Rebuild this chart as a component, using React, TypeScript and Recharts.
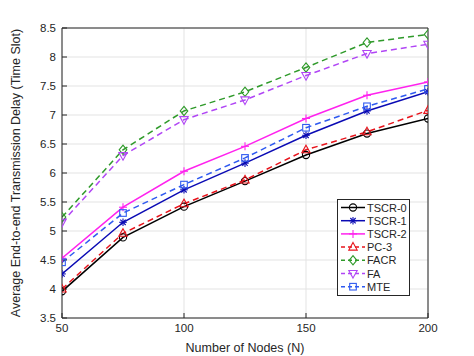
import React from "react";
import { LineChart, Line, XAxis, YAxis, CartesianGrid, Legend, ReferenceLine } from "recharts";

const nodes = [50, 75, 100, 125, 150, 175, 200];
const tscr0 = [3.96, 4.89, 5.42, 5.86, 6.31, 6.68, 6.94];
const tscr1 = [4.26, 5.15, 5.71, 6.17, 6.65, 7.07, 7.40];
const tscr2 = [4.53, 5.41, 6.03, 6.46, 6.94, 7.34, 7.57];
const pc3 = [4.0, 4.96, 5.47, 5.88, 6.40, 6.71, 7.08];
const facr = [5.24, 6.40, 7.07, 7.40, 7.82, 8.25, 8.39];
const fa = [5.15, 6.30, 6.92, 7.26, 7.68, 8.06, 8.22];
const mte = [4.46, 5.31, 5.80, 6.26, 6.78, 7.15, 7.45];

const xTicks = [50, 100, 150, 200];
const yTicks = [3.5, 4, 4.5, 5, 5.5, 6, 6.5, 7, 7.5, 8, 8.5];

const series = [
  { key: "TSCR-0", values: tscr0, color: "#000000", dash: undefined, shape: "circle" },
  { key: "TSCR-1", values: tscr1, color: "#0a0ab4", dash: undefined, shape: "asterisk" },
  { key: "TSCR-2", values: tscr2, color: "#ff22ee", dash: undefined, shape: "plus" },
  { key: "PC-3", values: pc3, color: "#e8141c", dash: "6 4", shape: "triup" },
  { key: "FACR", values: facr, color: "#2f9a2a", dash: "6 4", shape: "diamond" },
  { key: "FA", values: fa, color: "#b146f5", dash: "6 4", shape: "tridown" },
  { key: "MTE", values: mte, color: "#2f5af0", dash: "6 4", shape: "square" },
];

const data = nodes.map((n, i) => {
  const row: Record<string, number> = { n };
  series.forEach((s) => {
    row[s.key] = s.values[i];
  });
  return row;
});

const FONT = "'Liberation Sans', Arial, Helvetica, sans-serif";
const TXT = "#262626";

function Marker({ shape, color, cx, cy }: { shape: string; color: string; cx: number; cy: number }) {
  const sw = 1.1;
  const common = { fill: "none", stroke: color, strokeWidth: sw };
  switch (shape) {
    case "circle":
      return <circle cx={cx} cy={cy} r={3.6} {...common} />;
    case "asterisk": {
      const r = 3.8;
      const d = r * 0.707;
      return (
        <g stroke={color} strokeWidth={sw}>
          <line x1={cx - r} y1={cy} x2={cx + r} y2={cy} />
          <line x1={cx} y1={cy - r} x2={cx} y2={cy + r} />
          <line x1={cx - d} y1={cy - d} x2={cx + d} y2={cy + d} />
          <line x1={cx - d} y1={cy + d} x2={cx + d} y2={cy - d} />
        </g>
      );
    }
    case "plus": {
      const r = 4;
      return (
        <g stroke={color} strokeWidth={sw}>
          <line x1={cx - r} y1={cy} x2={cx + r} y2={cy} />
          <line x1={cx} y1={cy - r} x2={cx} y2={cy + r} />
        </g>
      );
    }
    case "triup":
      return <polygon points={`${cx},${cy - 4.6} ${cx + 4.2},${cy + 3} ${cx - 4.2},${cy + 3}`} {...common} />;
    case "tridown":
      return <polygon points={`${cx},${cy + 4.6} ${cx + 4.2},${cy - 3} ${cx - 4.2},${cy - 3}`} {...common} />;
    case "diamond":
      return <polygon points={`${cx},${cy - 4.6} ${cx + 3.8},${cy} ${cx},${cy + 4.6} ${cx - 3.8},${cy}`} {...common} />;
    case "square":
      return <rect x={cx - 3.3} y={cy - 3.3} width={6.6} height={6.6} {...common} />;
    default:
      return null;
  }
}

function makeDot(shape: string, color: string) {
  return (props: any) => {
    const { cx, cy, index } = props;
    if (cx == null || cy == null) return <g key={index} />;
    return (
      <g key={`${shape}-${index}`}>
        <Marker shape={shape} color={color} cx={cx} cy={cy} />
      </g>
    );
  };
}

function LegendBox() {
  const w = 73;
  const h = 97;
  const rowH = 13.2;
  return (
    <svg width={w} height={h} style={{ display: "block" }}>
      <rect x={0.5} y={0.5} width={w - 1} height={h - 1} fill="#ffffff" stroke="#262626" strokeWidth={1} />
      {series.map((s, i) => {
        const cy = 8.5 + i * rowH;
        return (
          <g key={s.key}>
            <line x1={4} y1={cy} x2={28} y2={cy} stroke={s.color} strokeWidth={1.5} strokeDasharray={s.dash ? "4 3" : undefined} />
            <Marker shape={s.shape} color={s.color} cx={16} cy={cy} />
            <text x={30} y={cy + 4} fontSize={11} fontFamily={FONT} fill={TXT}>
              {s.key}
            </text>
          </g>
        );
      })}
    </svg>
  );
}

export default function App() {
  return (
    <div style={{ position: "fixed", left: 0, top: 0, width: 474, height: 356, background: "#ffffff" }}>
      <LineChart width={474} height={356} data={data} margin={{ top: 28, right: 46, bottom: 0, left: 0 }}>
        <CartesianGrid stroke="#e3e3e3" strokeWidth={1} />
        <XAxis
          dataKey="n"
          type="number"
          domain={[50, 200]}
          ticks={xTicks}
          allowDataOverflow
          stroke={TXT}
          tickSize={-5}
          tickMargin={11}
          height={38}
          tick={{ fill: TXT, fontSize: 11.5, fontFamily: FONT }}
          label={{ value: "Number of Nodes (N)", position: "insideBottom", offset: 4, fill: TXT, fontSize: 12.5, fontFamily: FONT }}
        />
        <XAxis
          xAxisId="top"
          orientation="top"
          type="number"
          domain={[50, 200]}
          ticks={xTicks}
          allowDataOverflow
          stroke={TXT}
          tickSize={-5}
          height={0}
          tick={false}
        />
        <YAxis
          type="number"
          domain={[3.5, 8.5]}
          ticks={yTicks}
          allowDataOverflow
          width={62}
          stroke={TXT}
          tickSize={-5}
          tickMargin={11}
          tick={{ fill: TXT, fontSize: 11.5, fontFamily: FONT }}
          label={{
            value: "Average End-to-end Transmission Delay (Time Slot)",
            angle: -90,
            position: "insideLeft",
            offset: 16,
            style: { textAnchor: "middle" },
            fill: TXT,
            fontSize: 12.5,
            fontFamily: FONT,
          }}
        />
        <YAxis
          yAxisId="right"
          orientation="right"
          type="number"
          domain={[3.5, 8.5]}
          ticks={yTicks}
          allowDataOverflow
          width={0}
          stroke={TXT}
          tickSize={-5}
          tick={false}
        />
        <ReferenceLine y={8.5} stroke={TXT} strokeWidth={1} />
        <ReferenceLine x={200} stroke={TXT} strokeWidth={1} />
        {series.map((s) => (
          <Line
            key={s.key}
            dataKey={s.key}
            type="linear"
            stroke={s.color}
            strokeWidth={1.5}
            strokeDasharray={s.dash}
            dot={makeDot(s.shape, s.color)}
            activeDot={false}
            isAnimationActive={false}
          />
        ))}
        <Legend
          layout="vertical"
          align="center"
          verticalAlign="middle"
          wrapperStyle={{ position: "absolute", left: 337, top: 199, width: 73, height: 97 }}
          content={() => <LegendBox />}
        />
      </LineChart>
    </div>
  );
}
